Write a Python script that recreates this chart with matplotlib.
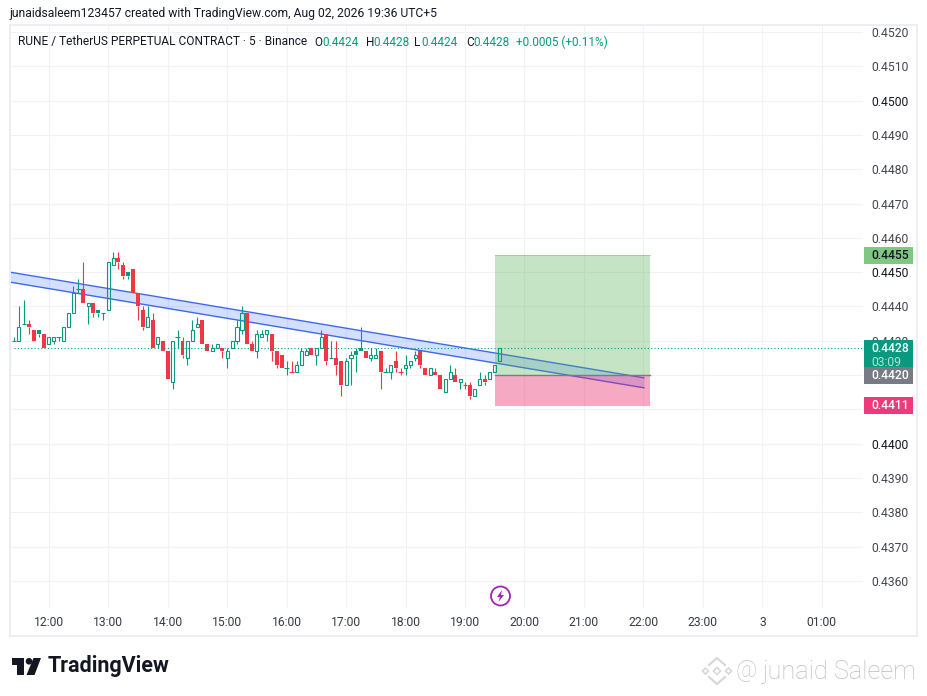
import matplotlib
matplotlib.use('Agg')
import matplotlib.pyplot as plt
from matplotlib.patches import Rectangle, Polygon, Circle

plt.rcParams['font.family'] = ['Roboto', 'DejaVu Sans']

# candles, 5 min bars from 11:25
opens = [.4430, .4430, .4435, .4435, .4433, .4433, .4432, .4429, .4430, .4431,
         .4430, .4434, .4438, .4445, .4445, .4440, .4441, .4439, .4438, .4439,
         .4452, .4454, .4452, .4450, .4451, .4444, .4439, .4434, .4436, .4429,
         .4430, .4427, .4418, .4431, .4430, .4425, .4430, .4434, .4436, .4429,
         .4427, .4428, .4428, .4425, .4428, .4430, .4433, .4438, .4429, .4427,
         .4431, .4432, .4432, .4427, .4426, .4422, .4421, .4421, .4423, .4426,
         .4428, .4426, .4428, .4432, .4425, .4425, .4424, .4417, .4425, .4427,
         .4428, .4427, .4425, .4425, .4427, .4421, .4421, .4424, .4421, .4422,
         .4423, .4425, .4427, .4422, .4420, .4421, .4420, .4415, .4419, .4420,
         .4418, .4417, .4417, .4414, .4417, .4419, .4419, .4421, .4424]
highs = [.4431, .4440, .4442, .4436, .4433, .4433, .4432, .4431, .4431, .4431,
         .4434, .4438, .4446, .4448, .4453, .4441, .4441, .4439, .4438, .4453,
         .4456, .4456, .4453, .4450, .4451, .4444, .4440, .4440, .4438, .4431,
         .4430, .4427, .4430, .4433, .4431, .4430, .4436, .4437, .4436, .4429,
         .4429, .4429, .4428, .4428, .4430, .4436, .4440, .4438, .4430, .4433,
         .4433, .4433, .4432, .4427, .4426, .4424, .4424, .4424, .4428, .4428,
         .4428, .4428, .4433, .4432, .4430, .4430, .4424, .4425, .4427, .4428,
         .4434, .4427, .4428, .4428, .4427, .4422, .4423, .4427, .4422, .4426,
         .4424, .4427, .4427, .4422, .4422, .4422, .4420, .4419, .4423, .4422,
         .4419, .4418, .4418, .4416, .4421, .4420, .4421, .4423, .4428]
lows = [.4430, .4430, .4435, .4432, .4430, .4431, .4428, .4429, .4429, .4430,
        .4430, .4434, .4438, .4444, .4441, .4435, .4437, .4437, .4436, .4439,
        .4452, .4451, .4448, .4448, .4444, .4436, .4433, .4434, .4428, .4428,
        .4427, .4419, .4416, .4428, .4425, .4423, .4430, .4434, .4429, .4427,
        .4427, .4428, .4425, .4422, .4428, .4429, .4432, .4429, .4427, .4425,
        .4431, .4430, .4424, .4422, .4422, .4420, .4421, .4421, .4423, .4426,
        .4426, .4423, .4428, .4423, .4425, .4420, .4414, .4417, .4417, .4421,
        .4427, .4425, .4424, .4425, .4416, .4421, .4419, .4421, .4420, .4420,
        .4422, .4424, .4422, .4420, .4420, .4420, .4416, .4415, .4419, .4418,
        .4416, .4416, .4413, .4414, .4417, .4417, .4419, .4421, .4424]
closes = [.4430, .4434, .4435, .4434, .4430, .4432, .4428, .4431, .4431, .4431,
          .4434, .4438, .4444, .4445, .4441, .4441, .4438, .4438, .4438, .4453,
          .4454, .4453, .4449, .4449, .4444, .4440, .4434, .4437, .4428, .4431,
          .4427, .4419, .4430, .4431, .4426, .4430, .4433, .4435, .4429, .4427,
          .4428, .4429, .4427, .4427, .4430, .4434, .4438, .4429, .4427, .4432,
          .4432, .4433, .4427, .4423, .4422, .4422, .4421, .4423, .4427, .4427,
          .4426, .4428, .4431, .4424, .4425, .4423, .4417, .4424, .4426, .4426,
          .4427, .4425, .4426, .4426, .4421, .4421, .4423, .4422, .4421, .4423,
          .4424, .4426, .4423, .4420, .4422, .4420, .4416, .4419, .4421, .4418,
          .4419, .4417, .4414, .4416, .4419, .4418, .4421, .4423, .4428]

price_ticks = [.4360, .4370, .4380, .4390, .4400, .4410, .4420, .4430, .4440,
               .4450, .4460, .4470, .4480, .4490, .4500, .4510, .4520]
time_ticks = [7, 19, 31, 43, 55, 67, 79, 91, 103, 115, 127, 139, 151, 163]
time_labels = ['12:00', '13:00', '14:00', '15:00', '16:00', '17:00', '18:00',
               '19:00', '20:00', '21:00', '22:00', '23:00', '3', '01:00']

# channel drawing
channel_x = [-0.8, 127.1]
channel_top = [.44500, .44192]
channel_bottom = [.44471, .44163]

# long position tool
pos_x = [97.1, 128.4]
entry = .4420
target = .4455
stop = .4411
last = .4428

TEAL = '#089981'
RED = '#f23645'
W, H = 927, 696

fig = plt.figure(figsize=(W / 100, H / 100), dpi=100)
ax = fig.add_axes([10 / W, 1 - 608 / H, 853 / W, 584 / H])
ax.set_xlim(-0.807, 171.3)
ax.set_ylim(.4520 - 576 / 34310, .4520 + 8 / 34310)
for s in ax.spines.values():
    s.set_visible(False)

ax.yaxis.tick_right()
ax.set_yticks(price_ticks)
ax.set_yticklabels(['%.4f' % p for p in price_ticks])
ax.set_xticks(time_ticks)
ax.set_xticklabels(time_labels)
ax.tick_params(axis='y', length=0, pad=5.8, labelsize=8.7, labelcolor='#434651')
ax.tick_params(axis='x', length=0, pad=5.5, labelsize=8.7, labelcolor='#363a45')
for lab, p in zip(ax.get_yticklabels(), price_ticks):
    if round(p * 1e4) % 50 == 0:
        lab.set_color('#131722')
ax.grid(True, color='#f1f2f4', lw=0.8)
ax.set_axisbelow(True)

# channel, under the position boxes
ax.fill_between(channel_x, channel_bottom, channel_top, color='#2962ff', alpha=0.2, lw=0, zorder=1)
ax.plot(channel_x, channel_top, color='#3f68ee', lw=1.0, zorder=1)
ax.plot(channel_x, channel_bottom, color='#3f68ee', lw=1.0, zorder=1)

# position boxes
ax.fill_between(pos_x, entry, target, color='#4caf50', alpha=0.33, lw=0, zorder=2)
ax.fill_between(pos_x, stop, entry, color='#e91e63', alpha=0.38, lw=0, zorder=2)
ax.plot(pos_x, [target, target], color='#4caf50', alpha=0.35, lw=0.7, zorder=2)
ax.plot(pos_x, [entry, entry], color='#787b86', lw=1.0, zorder=2)

# candles
for i in range(len(opens)):
    o, h, l, c = opens[i], highs[i], lows[i], closes[i]
    col = TEAL if i == 0 or c >= closes[i - 1] else RED
    top, bot = max(o, c), min(o, c)
    if h > top:
        ax.plot([i, i], [top, h], color=col, lw=0.8, zorder=3, solid_capstyle='butt')
    if l < bot:
        ax.plot([i, i], [l, bot], color=col, lw=0.8, zorder=3, solid_capstyle='butt')
    if c > o:
        ax.bar(i, c - o, bottom=o, width=0.62, facecolor='none', edgecolor=col, lw=0.8, zorder=3)
    elif c == o:
        ax.plot([i - 0.45, i + 0.45], [c, c], color=col, lw=0.8, zorder=3, solid_capstyle='butt')
    else:
        ax.bar(i, c - o, bottom=o, width=0.78, color=col, lw=0, zorder=3)

# last price line
ax.plot([0, 171.3], [last, last], color=TEAL, lw=0.8, ls=(0, (1, 2)), zorder=4)
ax.plot([-0.75, -0.75], [.4420, .44296], color=TEAL, lw=0.8, alpha=0.5, zorder=4)

# page furniture in pixels
over = fig.add_axes([0, 0, 1, 1], facecolor='none')
over.set_xlim(0, W)
over.set_ylim(H, 0)
over.axis('off')

over.add_patch(Rectangle((10, 25), 907, 610.5, fill=False, ec='#eceef2', lw=1.4))
over.text(9, 14, 'junaidsaleem123457 created with TradingView.com, Aug 02, 2026 19:36 UTC+5',
          fontsize=8.7, color='#131722', va='center')
over.text(18, 42, 'RUNE / TetherUS PERPETUAL CONTRACT · 5 · Binance', fontsize=8.6,
          color='#131722', va='center')
legend_bits = [(314, 'O', '#131722'), (322, '0.4424', TEAL), (366, 'H', '#131722'), (373.5, '0.4428', TEAL),
               (414.5, 'L', '#131722'), (421.5, '0.4424', TEAL), (466, 'C', '#131722'), (473, '0.4428', TEAL),
               (516, '+0.0005 (+0.11%)', TEAL)]
for x, s, col in legend_bits:
    over.text(x, 42, s, fontsize=8.5, color=col, va='center')


def price_y(p):
    return H - ax.transData.transform((0, p))[1]


def tag(p, col, txt_col='white', top=None, h=17):
    y = price_y(p)
    y0 = y - h / 2 if top is None else top
    over.add_patch(Rectangle((864, y0), 49, h, color=col, lw=0))
    if top is None:
        over.text(871, y, '%.4f' % p, fontsize=8.7, color=txt_col, va='center', fontweight='medium')


tag(target, '#81c784', '#131722')
tag(last, TEAL, top=340, h=31)
over.text(871, 348.5, '%.4f' % last, fontsize=8.7, color='white', va='center', fontweight='medium')
over.text(871, 362.5, '03:09', fontsize=8.7, color='#b5e0d8', va='center')
tag(entry, '#787b86')
tag(stop, '#ec3a7a')

# replay icon
over.add_patch(Circle((500.5, 596), 9.5, fill=False, ec='#9c27b0', lw=1.3))
over.add_patch(Polygon([(502, 590), (497, 597), (500, 597), (498.5, 602), (504, 595), (501, 595)],
                       color='#9c27b0', lw=0))

# logo
over.add_patch(Polygon([(12, 658), (24, 658), (24, 675), (17.5, 675), (17.5, 664.5), (12, 664.5)],
                       color='#131722', lw=0))
over.add_patch(Circle((29, 661.3), 3.3, color='#131722', lw=0))
over.add_patch(Polygon([(33.5, 658), (41, 658), (34.5, 675), (26.5, 675)], color='#131722', lw=0))
over.text(48, 666, 'TradingView', fontsize=15.5, color='#131722', va='center', fontweight='bold')

# watermark
wm = '#d9d9d9'
for cx, r in [(717, 3.5), (705.5, 3), (728.5, 3)]:
    over.add_patch(Polygon([(cx, 671 - r), (cx + r, 671), (cx, 671 + r), (cx - r, 671)],
                           fill=False, ec=wm, lw=1.2))
over.plot([709, 717, 725], [665, 658, 665], color=wm, lw=1.6)
over.plot([709, 717, 725], [677, 684, 677], color=wm, lw=1.6)
over.text(736, 671, '@', fontsize=16.5, color='#c6c6c6', va='center', fontweight='light')
over.text(763, 672, 'junaid Saleem', fontsize=18.3, color='#bdbdbd', va='center', fontweight='light')

fig.savefig('out.png', dpi=100)
